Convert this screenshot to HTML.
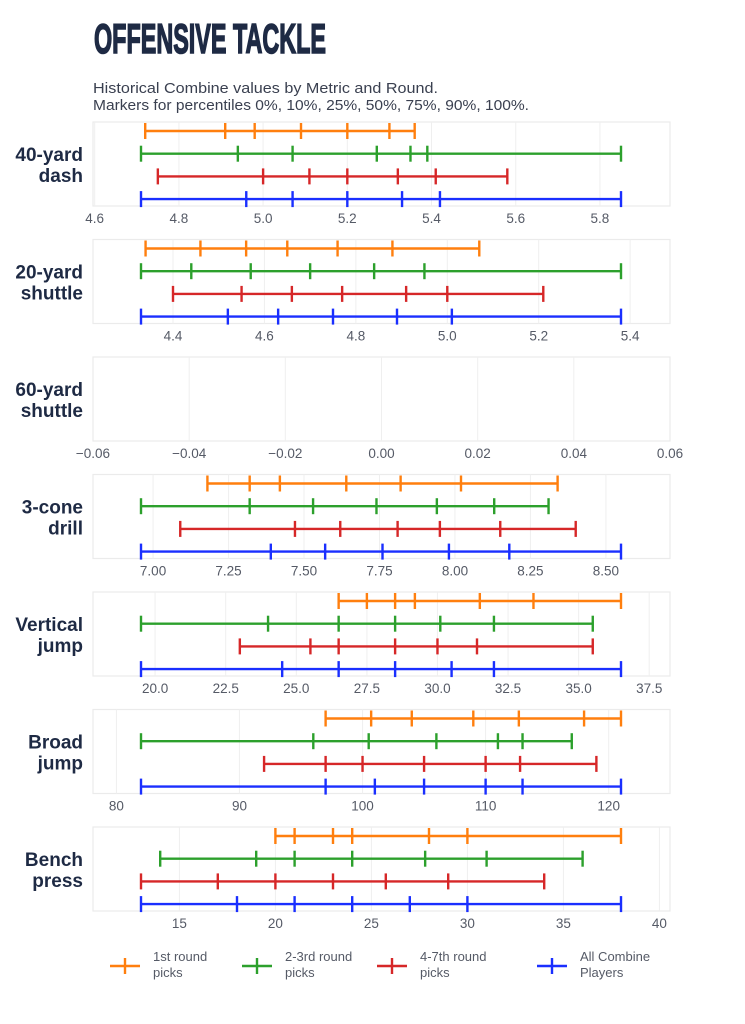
<!DOCTYPE html>
<html><head><meta charset="utf-8">
<style>
body{margin:0;background:#fff;width:745px;height:1024px;overflow:hidden;font-family:"Liberation Sans",sans-serif;}
svg{position:absolute;left:0;top:0}
</style></head>
<body>
<svg id="chart" width="745" height="1024" viewBox="0 0 745 1024">
<text x="94" y="53" font-family="Liberation Sans Narrow, Liberation Sans, sans-serif" font-weight="bold" font-size="42" fill="#1e2a44" stroke="#1e2a44" stroke-width="1.6" textLength="232" lengthAdjust="spacingAndGlyphs">OFFENSIVE TACKLE</text>
<text x="93" y="93" font-size="15" fill="#3a4050" textLength="345" lengthAdjust="spacingAndGlyphs">Historical Combine values by Metric and Round.</text>
<text x="93" y="110" font-size="15" fill="#3a4050" textLength="436" lengthAdjust="spacingAndGlyphs">Markers for percentiles 0%, 10%, 25%, 50%, 75%, 90%, 100%.</text>
<g id="panels"></g>
<g id="legend"></g>
</svg>
<script>
const metrics = [["40-yard","dash"],["20-yard","shuttle"],["60-yard","shuttle"],["3-cone","drill"],["Vertical","jump"],["Broad","jump"],["Bench","press"]];
const seriesNames = ["1st round picks","2-3rd round picks","4-7th round picks","All Combine Players"];
const seriesColors = ["#ff7f0e","#2ca02c","#d62728","#1a2fff"];
const dash40 = [[4.72,4.91,4.98,5.09,5.2,5.3,5.36],[4.71,4.94,5.07,5.27,5.35,5.39,5.85],[4.75,5.0,5.11,5.2,5.32,5.41,5.58],[4.71,4.96,5.07,5.2,5.33,5.42,5.85]];
const shuttle20 = [[4.34,4.46,4.56,4.65,4.76,4.88,5.07],[4.33,4.44,4.57,4.7,4.84,4.95,5.38],[4.4,4.55,4.66,4.77,4.91,5.0,5.21],[4.33,4.52,4.63,4.75,4.89,5.01,5.38]];
const shuttle60 = [[],[],[],[]];
const cone3 = [[7.18,7.32,7.42,7.64,7.82,8.02,8.34],[6.96,7.32,7.53,7.74,7.94,8.13,8.31],[7.09,7.47,7.62,7.81,7.95,8.15,8.4],[6.96,7.39,7.57,7.76,7.98,8.18,8.55]];
const vertical = [[26.5,27.5,28.5,29.2,31.5,33.4,36.5],[19.5,24.0,26.5,28.5,30.1,32.0,35.5],[23.0,25.5,26.5,28.5,30.0,31.4,35.5],[19.5,24.5,26.5,28.5,30.5,32.0,36.5]];
const broad = [[97,100.7,104,109,112.7,118,121],[82,96,100.5,106,111,113,117],[92,97,100,105,110,112.8,119],[82,97,101,105,110,113,121]];
const bench = [[20,21,23,24,28,30,38],[14,19,21,24,27.8,31,36],[13,17,20,23,25.75,29,34],[13,18,21,24,27,30,38]];
const panelData = [dash40,shuttle20,shuttle60,cone3,vertical,broad,bench];
const tickLabels = [["4.6","4.8","5.0","5.2","5.4","5.6","5.8"],["4.4","4.6","4.8","5.0","5.2","5.4"],["−0.06","−0.04","−0.02","0.00","0.02","0.04","0.06"],["7.00","7.25","7.50","7.75","8.00","8.25","8.50"],["20.0","22.5","25.0","27.5","30.0","32.5","35.0","37.5"],["80","90","100","110","120"],["15","20","25","30","35","40"]];
const tickValues = [[4.6,4.8,5.0,5.2,5.4,5.6,5.8],[4.4,4.6,4.8,5.0,5.2,5.4],[-0.06,-0.04,-0.02,0,0.02,0.04,0.06],[7,7.25,7.5,7.75,8,8.25,8.5],[20,22.5,25,27.5,30,32.5,35,37.5],[80,90,100,110,120],[15,20,25,30,35,40]];

const NS="http://www.w3.org/2000/svg";
function mk(tag,attrs,parent){const e=document.createElementNS(NS,tag);for(const k in attrs)e.setAttribute(k,attrs[k]);parent.appendChild(e);return e;}
const PL=93,PR=670,DL=141,DR=621,PH=84;
const panelsG=document.getElementById('panels');
panelData.forEach((data,pi)=>{
  const top=122+pi*117.5;
  const g=mk('g',{},panelsG);
  
  
  const all=data.flat();
  let x;
  if(all.length){const lo=Math.min(...all),hi=Math.max(...all);x=v=>DL+(v-lo)/(hi-lo)*(DR-DL);}
  else{x=v=>PL+(v+0.06)/0.12*(PR-PL);}
  const frame=mk('rect',{x:PL,y:top,width:PR-PL,height:PH,fill:'none',stroke:'#ebebeb','stroke-width':1.2},g);
  
  
  tickValues[pi].forEach((tv,ti)=>{
    const tx=x(tv);
    if(tx>PL+1&&tx<PR-1){const gl=mk('line',{x1:tx,x2:tx,y1:top,y2:top+PH,stroke:'#efefef','stroke-width':1},g);
      
      }
    const t=mk('text',{x:tx,y:top+PH+17,'text-anchor':'middle','font-size':13.5,fill:'#555a66'},g);
    
    
    t.textContent=tickLabels[pi][ti];
  });
  const lab=mk('text',{x:83,y:top+PH/2-3,'text-anchor':'end','font-size':19,'font-weight':'bold',fill:'#1e2a44'},g);
  
  
  const s1=mk('tspan',{x:83},lab);s1.textContent=metrics[pi][0];
  const s2=mk('tspan',{x:83,dy:21},lab);s2.textContent=metrics[pi][1];
  data.forEach((vals,si)=>{
    if(!vals.length)return;
    const y=top+9+si*22.7;
    const sg=mk('g',{stroke:seriesColors[si],'stroke-width':2.4},g);
    
    
    const ln=mk('line',{x1:x(vals[0]),x2:x(vals[vals.length-1]),y1:y,y2:y},sg);
    
    
    vals.forEach(v=>{
      const c=mk('line',{x1:x(v),x2:x(v),y1:y-8,y2:y+8},sg);
      
      
    });
  });
});
const legendG=document.getElementById('legend');
const lx=[125,257,392,552];
seriesNames.forEach((n,i)=>{
  const g=mk('g',{},legendG);
  
  
  mk('line',{x1:lx[i]-15,x2:lx[i]+15,y1:966,y2:966,stroke:seriesColors[i],'stroke-width':2.4},g);
  mk('line',{x1:lx[i],x2:lx[i],y1:958,y2:974,stroke:seriesColors[i],'stroke-width':2.4},g);
  const words=n.split(' ');
  const l1=i===3?'All Combine':words.slice(0,2).join(' ');
  const l2=i===3?'Players':words.slice(2).join(' ');
  const t=mk('text',{x:lx[i]+28,y:961,'font-size':13,fill:'#555a66'},g);
  const a=mk('tspan',{x:lx[i]+28},t);a.textContent=l1;
  const b=mk('tspan',{x:lx[i]+28,dy:16},t);b.textContent=l2;
});
</script>
</body></html>
